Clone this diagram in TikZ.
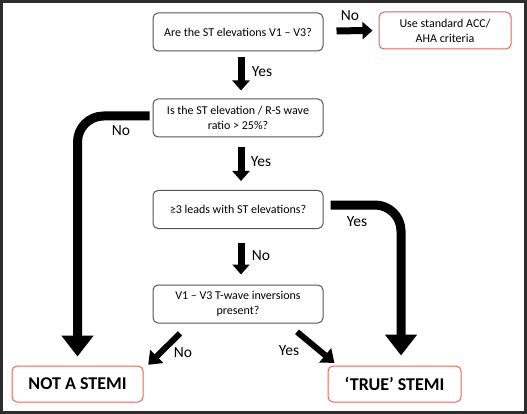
\documentclass[tikz,border=0pt]{standalone}
\usepackage{fontspec}
\setmainfont{Carlito}
\usetikzlibrary{arrows.meta}
\definecolor{boxgray}{RGB}{85,85,85}
\definecolor{boxred}{RGB}{228,100,84}
\definecolor{framegray}{RGB}{45,45,45}
\begin{document}
\begin{tikzpicture}[x=1pt,y=-1pt,
	question/.style={draw=boxgray,line width=1pt,rounded corners=5pt,minimum width=170pt,minimum height=38pt,align=center,inner sep=2pt,font=\fontsize{12}{15}\selectfont},
	advice/.style={draw=boxred,line width=1pt,rounded corners=5pt,minimum width=132pt,minimum height=37pt,align=center,inner sep=2pt,font=\fontsize{12}{15}\selectfont},
	outcome/.style={draw=boxred,line width=1pt,rounded corners=5pt,minimum height=36pt,align=center,font=\fontsize{18}{20}\selectfont\bfseries},
	answer/.style={inner sep=0pt,font=\fontsize{15.5}{18}\selectfont},
	blockarrow/.style={line width=7pt,-{Triangle[width=17pt,length=10pt]}},
	diagarrow/.style={line width=6pt,-{Triangle[width=18pt,length=12pt]}},
	bendarrow/.style={line width=9pt,rounded corners=26pt,-{Triangle[width=31pt,length=21pt]}}]
	\useasboundingbox (0,0) rectangle (527,414);
	\draw[framegray,line width=3pt] (1.5,1.5) rectangle (525.5,412.5);
	% questions
	\node[question] (elev) at (238,32) {Are the ST elevations V1 – V3?};
	\node[question] (ratio) at (238,118) {Is the ST elevation / R-S wave\\ratio > 25\%?};
	\node[question] (leads) at (238,209.5) {≥3 leads with ST elevations?};
	\node[question] (twave) at (238,304) {V1 – V3 T-wave inversions\\present?};
	% results
	\node[advice] (acc) at (445,30.5) {Use standard ACC/\\AHA criteria};
	\node[outcome,minimum width=131pt] (notstemi) at (77.5,384) {NOT A STEMI};
	\node[outcome,minimum width=133pt] (truestemi) at (394.5,384) {‘TRUE’ STEMI};
	% arrows
	\draw[blockarrow,shorten <=13pt,shorten >=6pt] ([yshift=1pt]elev.east) -- (acc.west);
	\draw[blockarrow,shorten <=6pt,shorten >=8pt] ([xshift=3pt]elev.south) -- ([xshift=3pt]ratio.north);
	\draw[blockarrow,shorten <=10pt,shorten >=9pt] ([xshift=3pt]ratio.south) -- ([xshift=3pt]leads.north);
	\draw[blockarrow,shorten <=14pt,shorten >=10pt] ([xshift=3pt]leads.south) -- ([xshift=3pt]twave.north);
	\draw[bendarrow,shorten <=3pt,shorten >=9pt] ([yshift=2pt]ratio.west) -| (notstemi.north);
	\draw[bendarrow,shorten <=7pt,shorten >=10pt] ([yshift=4.5pt]leads.east) -| ([xshift=6.5pt]truestemi.north);
	\draw[diagarrow,shorten <=14pt,shorten >=1pt] ([xshift=-48pt]twave.south) -- ([xshift=4pt]notstemi.north east);
	\draw[diagarrow,shorten <=13pt,shorten >=4pt] ([xshift=49pt]twave.south) -- ([xshift=10pt]truestemi.north west);
	% answers
	\node[answer] (no1) at (350,16) {No};
	\node[answer] (yes1) at (262,72) {Yes};
	\node[answer] (no2) at (121,131) {No};
	\node[answer] (yes2) at (261,162) {Yes};
	\node[answer] (yes3) at (357,222) {Yes};
	\node[answer] (no3) at (261,256) {No};
	\node[answer] (no4) at (183,353) {No};
	\node[answer] (yes4) at (289,351) {Yes};
\end{tikzpicture}
\end{document}
